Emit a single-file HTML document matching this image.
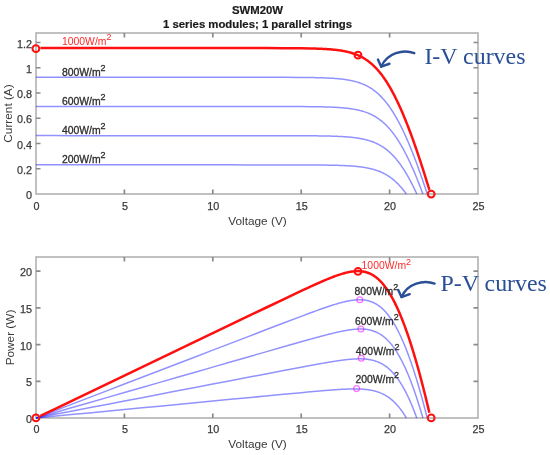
<!DOCTYPE html>
<html><head><meta charset="utf-8"><title>SWM20W I-V and P-V curves</title>
<style>html,body{margin:0;padding:0;background:#fff;overflow:hidden}svg{display:block}</style>
</head><body>
<svg width="550" height="455" viewBox="0 0 550 455"><rect width="550" height="455" fill="#fff"/><g font-family="'Liberation Sans', Arial, Helvetica, sans-serif" font-size="11.35" font-weight="bold" fill="#1a1a1a" stroke="#1a1a1a" stroke-width="0.2" text-anchor="middle"><text x="257.5" y="14.3">SWM20W</text><text x="257.5" y="28.2">1 series modules; 1 parallel strings</text></g><rect x="36.0" y="33.0" width="442.0" height="161.0" fill="none" stroke="#adadad" stroke-width="1.5"/><path d="M124.40,194.0V189.5M124.40,33.0V37.5M212.80,194.0V189.5M212.80,33.0V37.5M301.20,194.0V189.5M301.20,33.0V37.5M389.60,194.0V189.5M389.60,33.0V37.5M36.0,168.75H40.5M478.0,168.75H473.5M36.0,143.50H40.5M478.0,143.50H473.5M36.0,118.25H40.5M478.0,118.25H473.5M36.0,93.00H40.5M478.0,93.00H473.5M36.0,67.75H40.5M478.0,67.75H473.5M36.0,42.50H40.5M478.0,42.50H473.5" stroke="#8a8a8a" stroke-width="1.7" fill="none"/><g font-family="'Liberation Sans', Arial, Helvetica, sans-serif" font-size="10.8" fill="#3a3a3a" stroke="#3a3a3a" stroke-width="0.25"><text x="36.50" y="209.50" text-anchor="middle">0</text><text x="124.90" y="209.50" text-anchor="middle">5</text><text x="213.30" y="209.50" text-anchor="middle">10</text><text x="301.70" y="209.50" text-anchor="middle">15</text><text x="390.10" y="209.50" text-anchor="middle">20</text><text x="478.50" y="209.50" text-anchor="middle">25</text><text x="32.00" y="199.00" text-anchor="end">0</text><text x="32.00" y="173.75" text-anchor="end">0.2</text><text x="32.00" y="148.50" text-anchor="end">0.4</text><text x="32.00" y="123.25" text-anchor="end">0.6</text><text x="32.00" y="98.00" text-anchor="end">0.8</text><text x="32.00" y="72.75" text-anchor="end">1</text><text x="32.00" y="47.50" text-anchor="end">1.2</text></g><text transform="translate(11.9,113.5) rotate(-90)" font-family="'Liberation Sans', Arial, Helvetica, sans-serif" font-size="11.8" fill="#3a3a3a" text-anchor="middle">Current (A)</text><text x="257.5" y="224.50" font-family="'Liberation Sans', Arial, Helvetica, sans-serif" font-size="11.8" fill="#3a3a3a" text-anchor="middle">Voltage (V)</text><rect x="36.0" y="257.0" width="442.0" height="161.0" fill="none" stroke="#adadad" stroke-width="1.5"/><path d="M124.40,418.0V413.5M124.40,257.0V261.5M212.80,418.0V413.5M212.80,257.0V261.5M301.20,418.0V413.5M301.20,257.0V261.5M389.60,418.0V413.5M389.60,257.0V261.5M36.0,381.30H40.5M478.0,381.30H473.5M36.0,344.60H40.5M478.0,344.60H473.5M36.0,307.90H40.5M478.0,307.90H473.5M36.0,271.20H40.5M478.0,271.20H473.5" stroke="#8a8a8a" stroke-width="1.7" fill="none"/><g font-family="'Liberation Sans', Arial, Helvetica, sans-serif" font-size="10.8" fill="#3a3a3a" stroke="#3a3a3a" stroke-width="0.25"><text x="36.50" y="432.80" text-anchor="middle">0</text><text x="124.90" y="432.80" text-anchor="middle">5</text><text x="213.30" y="432.80" text-anchor="middle">10</text><text x="301.70" y="432.80" text-anchor="middle">15</text><text x="390.10" y="432.80" text-anchor="middle">20</text><text x="478.50" y="432.80" text-anchor="middle">25</text><text x="32.00" y="423.00" text-anchor="end">0</text><text x="32.00" y="386.30" text-anchor="end">5</text><text x="32.00" y="349.60" text-anchor="end">10</text><text x="32.00" y="312.90" text-anchor="end">15</text><text x="32.00" y="276.20" text-anchor="end">20</text></g><text transform="translate(13.6,337.5) rotate(-90)" font-family="'Liberation Sans', Arial, Helvetica, sans-serif" font-size="11.8" fill="#3a3a3a" text-anchor="middle">Power (W)</text><text x="257.5" y="447.80" font-family="'Liberation Sans', Arial, Helvetica, sans-serif" font-size="11.8" fill="#3a3a3a" text-anchor="middle">Voltage (V)</text><g fill="none" stroke="#0000ff" stroke-opacity="0.43" stroke-width="1.5" stroke-linejoin="round"><path d="M36.00,164.81 53.68,164.81 71.36,164.82 89.04,164.82 106.72,164.83 124.40,164.83 142.08,164.84 159.76,164.85 177.44,164.85 195.12,164.86 212.80,164.86 230.48,164.87 248.16,164.88 265.84,164.88 283.52,164.90 301.20,164.93 310.04,164.96 310.65,164.97 311.25,164.97 311.86,164.97 312.46,164.98 313.07,164.98 313.67,164.98 314.28,164.99 314.88,164.99 315.49,165.00 316.10,165.00 316.70,165.01 317.31,165.01 317.91,165.01 318.52,165.02 319.12,165.03 319.73,165.03 320.33,165.04 320.94,165.04 321.55,165.05 322.15,165.05 322.76,165.06 323.36,165.07 323.97,165.08 324.57,165.08 325.18,165.09 325.78,165.10 326.39,165.11 327.00,165.12 327.60,165.13 328.21,165.13 328.81,165.14 329.42,165.15 330.02,165.17 330.63,165.18 331.23,165.19 331.84,165.20 332.45,165.21 333.05,165.23 333.66,165.24 334.26,165.25 334.87,165.27 335.47,165.28 336.08,165.30 336.69,165.31 337.29,165.33 337.90,165.35 338.50,165.37 339.11,165.39 339.71,165.41 340.32,165.43 340.92,165.45 341.53,165.47 342.14,165.50 342.74,165.52 343.35,165.55 343.95,165.57 344.56,165.60 345.16,165.63 345.77,165.66 346.37,165.69 346.98,165.72 347.59,165.75 348.19,165.79 348.80,165.82 349.40,165.86 350.01,165.90 350.61,165.94 351.22,165.98 351.82,166.03 352.43,166.07 353.04,166.12 353.64,166.17 354.25,166.22 354.85,166.27 355.46,166.33 356.06,166.38 356.67,166.44 357.27,166.51 357.88,166.57 358.49,166.64 359.09,166.71 359.70,166.78 360.30,166.85 360.91,166.93 361.51,167.01 362.12,167.10 362.72,167.18 363.33,167.28 363.94,167.37 364.54,167.47 365.15,167.57 365.75,167.68 366.36,167.78 366.96,167.90 367.57,168.02 368.17,168.14 368.78,168.27 369.39,168.40 369.99,168.53 370.60,168.68 371.20,168.82 371.81,168.98 372.41,169.14 373.02,169.30 373.62,169.47 374.23,169.65 374.84,169.83 375.44,170.02 376.05,170.21 376.65,170.42 377.26,170.63 377.86,170.85 378.47,171.07 379.08,171.31 379.68,171.55 380.29,171.80 380.89,172.06 381.50,172.32 382.10,172.60 382.71,172.89 383.31,173.18 383.92,173.49 384.53,173.80 385.13,174.13 385.74,174.46 386.34,174.81 386.95,175.17 387.55,175.54 388.16,175.92 388.76,176.31 389.37,176.72 389.98,177.14 390.58,177.57 391.19,178.01 391.79,178.47 392.40,178.94 393.00,179.42 393.61,179.92 394.21,180.43 394.82,180.96 395.43,181.50 396.03,182.06 396.64,182.63 397.24,183.22 397.85,183.82 398.45,184.44 399.06,185.07 399.66,185.72 400.27,186.39 400.88,187.07 401.48,187.78 402.09,188.49 402.69,189.23 403.30,189.98 403.90,190.75 404.51,191.53 405.11,192.34 405.72,193.16 406.33,194.00"/><path d="M36.00,418.00 53.68,416.30 71.36,414.61 89.04,412.91 106.72,411.22 124.40,409.52 142.08,407.83 159.76,406.14 177.44,404.44 195.12,402.75 212.80,401.06 230.48,399.37 248.16,397.68 265.84,395.99 283.52,394.31 301.20,392.65 310.04,391.83 310.65,391.78 311.25,391.72 311.86,391.67 312.46,391.61 313.07,391.56 313.67,391.51 314.28,391.45 314.88,391.40 315.49,391.34 316.10,391.29 316.70,391.24 317.31,391.18 317.91,391.13 318.52,391.08 319.12,391.02 319.73,390.97 320.33,390.92 320.94,390.87 321.55,390.82 322.15,390.76 322.76,390.71 323.36,390.66 323.97,390.61 324.57,390.56 325.18,390.51 325.78,390.46 326.39,390.41 327.00,390.36 327.60,390.31 328.21,390.26 328.81,390.22 329.42,390.17 330.02,390.12 330.63,390.07 331.23,390.03 331.84,389.98 332.45,389.94 333.05,389.89 333.66,389.85 334.26,389.80 334.87,389.76 335.47,389.72 336.08,389.68 336.69,389.64 337.29,389.60 337.90,389.56 338.50,389.52 339.11,389.48 339.71,389.44 340.32,389.41 340.92,389.37 341.53,389.34 342.14,389.30 342.74,389.27 343.35,389.24 343.95,389.21 344.56,389.18 345.16,389.15 345.77,389.13 346.37,389.10 346.98,389.08 347.59,389.06 348.19,389.04 348.80,389.02 349.40,389.00 350.01,388.98 350.61,388.97 351.22,388.96 351.82,388.95 352.43,388.94 353.04,388.93 353.64,388.93 354.25,388.93 354.85,388.93 355.46,388.93 356.06,388.93 356.67,388.94 357.27,388.95 357.88,388.97 358.49,388.98 359.09,389.00 359.70,389.02 360.30,389.05 360.91,389.08 361.51,389.11 362.12,389.15 362.72,389.19 363.33,389.23 363.94,389.28 364.54,389.34 365.15,389.39 365.75,389.45 366.36,389.52 366.96,389.59 367.57,389.67 368.17,389.75 368.78,389.84 369.39,389.93 369.99,390.03 370.60,390.14 371.20,390.25 371.81,390.37 372.41,390.49 373.02,390.63 373.62,390.77 374.23,390.91 374.84,391.07 375.44,391.23 376.05,391.40 376.65,391.58 377.26,391.77 377.86,391.97 378.47,392.18 379.08,392.40 379.68,392.62 380.29,392.86 380.89,393.11 381.50,393.37 382.10,393.64 382.71,393.93 383.31,394.22 383.92,394.53 384.53,394.85 385.13,395.19 385.74,395.53 386.34,395.89 386.95,396.27 387.55,396.66 388.16,397.06 388.76,397.48 389.37,397.92 389.98,398.37 390.58,398.84 391.19,399.33 391.79,399.83 392.40,400.35 393.00,400.89 393.61,401.45 394.21,402.02 394.82,402.62 395.43,403.23 396.03,403.86 396.64,404.52 397.24,405.19 397.85,405.89 398.45,406.60 399.06,407.34 399.66,408.10 400.27,408.89 400.88,409.69 401.48,410.52 402.09,411.37 402.69,412.24 403.30,413.14 403.90,414.07 404.51,415.01 405.11,415.98 405.72,416.98 406.33,418.00"/><path d="M36.00,135.61 53.68,135.62 71.36,135.63 89.04,135.63 106.72,135.64 124.40,135.64 142.08,135.65 159.76,135.65 177.44,135.66 195.12,135.66 212.80,135.67 230.48,135.68 248.16,135.68 265.84,135.69 283.52,135.71 301.20,135.75 310.04,135.80 310.71,135.81 311.38,135.81 312.05,135.82 312.73,135.82 313.40,135.83 314.07,135.84 314.74,135.84 315.41,135.85 316.08,135.86 316.75,135.86 317.42,135.87 318.10,135.88 318.77,135.89 319.44,135.90 320.11,135.90 320.78,135.91 321.45,135.92 322.12,135.93 322.80,135.94 323.47,135.96 324.14,135.97 324.81,135.98 325.48,135.99 326.15,136.01 326.82,136.02 327.50,136.03 328.17,136.05 328.84,136.07 329.51,136.08 330.18,136.10 330.85,136.12 331.52,136.14 332.19,136.16 332.87,136.18 333.54,136.20 334.21,136.22 334.88,136.24 335.55,136.27 336.22,136.29 336.89,136.32 337.57,136.35 338.24,136.38 338.91,136.41 339.58,136.44 340.25,136.47 340.92,136.51 341.59,136.54 342.27,136.58 342.94,136.62 343.61,136.66 344.28,136.70 344.95,136.75 345.62,136.80 346.29,136.85 346.96,136.90 347.64,136.95 348.31,137.01 348.98,137.06 349.65,137.12 350.32,137.19 350.99,137.25 351.66,137.32 352.34,137.39 353.01,137.47 353.68,137.55 354.35,137.63 355.02,137.72 355.69,137.81 356.36,137.90 357.04,137.99 357.71,138.10 358.38,138.20 359.05,138.31 359.72,138.43 360.39,138.55 361.06,138.67 361.73,138.80 362.41,138.93 363.08,139.08 363.75,139.22 364.42,139.38 365.09,139.53 365.76,139.70 366.43,139.87 367.11,140.05 367.78,140.24 368.45,140.43 369.12,140.64 369.79,140.85 370.46,141.07 371.13,141.29 371.81,141.53 372.48,141.78 373.15,142.03 373.82,142.30 374.49,142.57 375.16,142.86 375.83,143.15 376.50,143.46 377.18,143.78 377.85,144.11 378.52,144.46 379.19,144.81 379.86,145.18 380.53,145.57 381.20,145.96 381.88,146.37 382.55,146.80 383.22,147.24 383.89,147.69 384.56,148.16 385.23,148.65 385.90,149.15 386.57,149.67 387.25,150.20 387.92,150.75 388.59,151.32 389.26,151.91 389.93,152.52 390.60,153.14 391.27,153.78 391.95,154.45 392.62,155.13 393.29,155.83 393.96,156.55 394.63,157.29 395.30,158.05 395.97,158.83 396.65,159.64 397.32,160.46 397.99,161.31 398.66,162.17 399.33,163.06 400.00,163.97 400.67,164.90 401.34,165.86 402.02,166.84 402.69,167.83 403.36,168.86 404.03,169.90 404.70,170.97 405.37,172.05 406.04,173.17 406.72,174.30 407.39,175.46 408.06,176.64 408.73,177.84 409.40,179.06 410.07,180.31 410.74,181.58 411.42,182.87 412.09,184.19 412.76,185.52 413.43,186.88 414.10,188.26 414.77,189.66 415.44,191.09 416.11,192.53 416.79,194.00"/><path d="M36.00,418.00 53.68,414.61 71.36,411.21 89.04,407.82 106.72,404.43 124.40,401.04 142.08,397.64 159.76,394.25 177.44,390.86 195.12,387.48 212.80,384.09 230.48,380.70 248.16,377.31 265.84,373.93 283.52,370.56 301.20,367.21 310.04,365.56 310.71,365.43 311.38,365.31 312.05,365.18 312.73,365.06 313.40,364.94 314.07,364.82 314.74,364.69 315.41,364.57 316.08,364.45 316.75,364.33 317.42,364.21 318.10,364.08 318.77,363.96 319.44,363.84 320.11,363.72 320.78,363.60 321.45,363.49 322.12,363.37 322.80,363.25 323.47,363.13 324.14,363.01 324.81,362.90 325.48,362.78 326.15,362.67 326.82,362.55 327.50,362.44 328.17,362.32 328.84,362.21 329.51,362.10 330.18,361.99 330.85,361.88 331.52,361.77 332.19,361.66 332.87,361.55 333.54,361.44 334.21,361.34 334.88,361.23 335.55,361.13 336.22,361.03 336.89,360.93 337.57,360.83 338.24,360.73 338.91,360.63 339.58,360.54 340.25,360.44 340.92,360.35 341.59,360.26 342.27,360.17 342.94,360.09 343.61,360.00 344.28,359.92 344.95,359.84 345.62,359.76 346.29,359.68 346.96,359.61 347.64,359.54 348.31,359.47 348.98,359.40 349.65,359.34 350.32,359.28 350.99,359.22 351.66,359.17 352.34,359.12 353.01,359.07 353.68,359.03 354.35,358.99 355.02,358.95 355.69,358.92 356.36,358.90 357.04,358.88 357.71,358.86 358.38,358.85 359.05,358.84 359.72,358.84 360.39,358.85 361.06,358.86 361.73,358.87 362.41,358.90 363.08,358.93 363.75,358.96 364.42,359.01 365.09,359.06 365.76,359.12 366.43,359.19 367.11,359.26 367.78,359.35 368.45,359.44 369.12,359.54 369.79,359.66 370.46,359.78 371.13,359.91 371.81,360.06 372.48,360.22 373.15,360.38 373.82,360.56 374.49,360.76 375.16,360.96 375.83,361.18 376.50,361.41 377.18,361.66 377.85,361.92 378.52,362.20 379.19,362.49 379.86,362.80 380.53,363.13 381.20,363.47 381.88,363.83 382.55,364.21 383.22,364.61 383.89,365.02 384.56,365.46 385.23,365.92 385.90,366.39 386.57,366.89 387.25,367.41 387.92,367.95 388.59,368.52 389.26,369.11 389.93,369.72 390.60,370.36 391.27,371.02 391.95,371.70 392.62,372.41 393.29,373.15 393.96,373.92 394.63,374.71 395.30,375.53 395.97,376.37 396.65,377.25 397.32,378.15 397.99,379.08 398.66,380.04 399.33,381.04 400.00,382.06 400.67,383.11 401.34,384.19 402.02,385.30 402.69,386.45 403.36,387.62 404.03,388.83 404.70,390.07 405.37,391.34 406.04,392.65 406.72,393.98 407.39,395.35 408.06,396.76 408.73,398.19 409.40,399.66 410.07,401.16 410.74,402.69 411.42,404.26 412.09,405.86 412.76,407.50 413.43,409.16 414.10,410.86 414.77,412.60 415.44,414.37 416.11,416.17 416.79,418.00"/><path d="M36.00,106.42 53.68,106.43 71.36,106.43 89.04,106.44 106.72,106.44 124.40,106.45 142.08,106.45 159.76,106.46 177.44,106.47 195.12,106.47 212.80,106.48 230.48,106.48 248.16,106.49 265.84,106.50 283.52,106.52 301.20,106.59 310.04,106.66 310.75,106.67 311.46,106.67 312.17,106.68 312.88,106.69 313.59,106.70 314.30,106.71 315.01,106.72 315.72,106.73 316.43,106.74 317.14,106.75 317.85,106.76 318.56,106.78 319.27,106.79 319.98,106.80 320.69,106.82 321.40,106.83 322.11,106.85 322.82,106.86 323.53,106.88 324.24,106.90 324.95,106.92 325.66,106.94 326.37,106.96 327.08,106.98 327.78,107.00 328.49,107.03 329.20,107.05 329.91,107.08 330.62,107.10 331.33,107.13 332.04,107.16 332.75,107.19 333.46,107.23 334.17,107.26 334.88,107.30 335.59,107.33 336.30,107.37 337.01,107.41 337.72,107.46 338.43,107.50 339.14,107.55 339.85,107.60 340.56,107.65 341.27,107.70 341.98,107.76 342.69,107.82 343.40,107.88 344.11,107.95 344.82,108.01 345.53,108.09 346.24,108.16 346.95,108.24 347.66,108.32 348.37,108.40 349.08,108.49 349.79,108.59 350.50,108.68 351.21,108.78 351.92,108.89 352.63,109.00 353.34,109.12 354.05,109.24 354.76,109.37 355.47,109.50 356.18,109.64 356.89,109.78 357.60,109.93 358.31,110.09 359.02,110.26 359.73,110.43 360.44,110.61 361.15,110.79 361.86,110.99 362.56,111.19 363.27,111.40 363.98,111.62 364.69,111.86 365.40,112.10 366.11,112.35 366.82,112.61 367.53,112.88 368.24,113.16 368.95,113.45 369.66,113.76 370.37,114.08 371.08,114.41 371.79,114.75 372.50,115.11 373.21,115.48 373.92,115.87 374.63,116.27 375.34,116.68 376.05,117.12 376.76,117.56 377.47,118.03 378.18,118.51 378.89,119.00 379.60,119.52 380.31,120.05 381.02,120.60 381.73,121.18 382.44,121.77 383.15,122.37 383.86,123.00 384.57,123.65 385.28,124.33 385.99,125.02 386.70,125.73 387.41,126.47 388.12,127.23 388.83,128.01 389.54,128.81 390.25,129.63 390.96,130.48 391.67,131.36 392.38,132.25 393.09,133.17 393.80,134.12 394.51,135.09 395.22,136.08 395.93,137.10 396.64,138.15 397.35,139.22 398.05,140.31 398.76,141.43 399.47,142.57 400.18,143.74 400.89,144.94 401.60,146.16 402.31,147.40 403.02,148.67 403.73,149.97 404.44,151.29 405.15,152.64 405.86,154.01 406.57,155.40 407.28,156.82 407.99,158.27 408.70,159.74 409.41,161.23 410.12,162.75 410.83,164.30 411.54,165.86 412.25,167.45 412.96,169.07 413.67,170.70 414.38,172.36 415.09,174.05 415.80,175.75 416.51,177.48 417.22,179.23 417.93,181.00 418.64,182.80 419.35,184.61 420.06,186.45 420.77,188.31 421.48,190.18 422.19,192.08 422.90,194.00"/><path d="M36.00,418.00 53.68,412.91 71.36,407.82 89.04,402.73 106.72,397.64 124.40,392.55 142.08,387.46 159.76,382.37 177.44,377.29 195.12,372.20 212.80,367.12 230.48,362.03 248.16,356.95 265.84,351.87 283.52,346.80 301.20,341.77 310.04,339.29 310.75,339.10 311.46,338.90 312.17,338.70 312.88,338.51 313.59,338.31 314.30,338.12 315.01,337.92 315.72,337.73 316.43,337.53 317.14,337.34 317.85,337.15 318.56,336.95 319.27,336.76 319.98,336.57 320.69,336.38 321.40,336.19 322.11,336.00 322.82,335.82 323.53,335.63 324.24,335.44 324.95,335.26 325.66,335.07 326.37,334.89 327.08,334.71 327.78,334.53 328.49,334.34 329.20,334.17 329.91,333.99 330.62,333.81 331.33,333.64 332.04,333.46 332.75,333.29 333.46,333.12 334.17,332.95 334.88,332.78 335.59,332.62 336.30,332.45 337.01,332.29 337.72,332.13 338.43,331.98 339.14,331.82 339.85,331.67 340.56,331.52 341.27,331.37 341.98,331.23 342.69,331.09 343.40,330.95 344.11,330.81 344.82,330.68 345.53,330.55 346.24,330.43 346.95,330.31 347.66,330.19 348.37,330.08 349.08,329.97 349.79,329.86 350.50,329.77 351.21,329.67 351.92,329.58 352.63,329.50 353.34,329.42 354.05,329.35 354.76,329.29 355.47,329.23 356.18,329.18 356.89,329.13 357.60,329.10 358.31,329.07 359.02,329.05 359.73,329.03 360.44,329.03 361.15,329.03 361.86,329.05 362.56,329.07 363.27,329.11 363.98,329.16 364.69,329.21 365.40,329.28 366.11,329.36 366.82,329.45 367.53,329.56 368.24,329.68 368.95,329.81 369.66,329.96 370.37,330.12 371.08,330.30 371.79,330.50 372.50,330.71 373.21,330.93 373.92,331.18 374.63,331.44 375.34,331.72 376.05,332.03 376.76,332.35 377.47,332.69 378.18,333.05 378.89,333.44 379.60,333.85 380.31,334.28 381.02,334.73 381.73,335.21 382.44,335.71 383.15,336.24 383.86,336.79 384.57,337.37 385.28,337.97 385.99,338.61 386.70,339.27 387.41,339.96 388.12,340.68 388.83,341.43 389.54,342.21 390.25,343.02 390.96,343.86 391.67,344.73 392.38,345.64 393.09,346.58 393.80,347.55 394.51,348.55 395.22,349.59 395.93,350.66 396.64,351.76 397.35,352.90 398.05,354.08 398.76,355.29 399.47,356.53 400.18,357.81 400.89,359.13 401.60,360.48 402.31,361.87 403.02,363.29 403.73,364.76 404.44,366.25 405.15,367.79 405.86,369.36 406.57,370.97 407.28,372.61 407.99,374.29 408.70,376.01 409.41,377.77 410.12,379.56 410.83,381.39 411.54,383.25 412.25,385.15 412.96,387.09 413.67,389.07 414.38,391.08 415.09,393.13 415.80,395.21 416.51,397.33 417.22,399.49 417.93,401.68 418.64,403.90 419.35,406.17 420.06,408.46 420.77,410.80 421.48,413.16 422.19,415.56 422.90,418.00"/><path d="M36.00,77.23 53.68,77.23 71.36,77.24 89.04,77.24 106.72,77.25 124.40,77.26 142.08,77.26 159.76,77.27 177.44,77.27 195.12,77.28 212.80,77.28 230.48,77.29 248.16,77.30 265.84,77.31 283.52,77.34 301.20,77.43 310.04,77.53 310.78,77.55 311.51,77.56 312.25,77.57 312.99,77.58 313.73,77.60 314.46,77.61 315.20,77.63 315.94,77.64 316.67,77.66 317.41,77.68 318.15,77.69 318.88,77.71 319.62,77.73 320.36,77.75 321.10,77.78 321.83,77.80 322.57,77.82 323.31,77.85 324.04,77.88 324.78,77.90 325.52,77.93 326.26,77.96 326.99,78.00 327.73,78.03 328.47,78.07 329.20,78.10 329.94,78.14 330.68,78.18 331.41,78.23 332.15,78.27 332.89,78.32 333.63,78.37 334.36,78.42 335.10,78.47 335.84,78.53 336.57,78.59 337.31,78.65 338.05,78.72 338.79,78.79 339.52,78.86 340.26,78.94 341.00,79.02 341.73,79.10 342.47,79.19 343.21,79.28 343.94,79.37 344.68,79.48 345.42,79.58 346.16,79.69 346.89,79.81 347.63,79.93 348.37,80.05 349.10,80.18 349.84,80.32 350.58,80.47 351.32,80.62 352.05,80.78 352.79,80.94 353.53,81.12 354.26,81.30 355.00,81.49 355.74,81.68 356.47,81.89 357.21,82.11 357.95,82.33 358.69,82.57 359.42,82.81 360.16,83.07 360.90,83.34 361.63,83.61 362.37,83.91 363.11,84.21 363.85,84.52 364.58,84.85 365.32,85.20 366.06,85.55 366.79,85.92 367.53,86.31 368.27,86.71 369.00,87.13 369.74,87.56 370.48,88.01 371.22,88.48 371.95,88.97 372.69,89.47 373.43,90.00 374.16,90.54 374.90,91.10 375.64,91.68 376.38,92.28 377.11,92.91 377.85,93.55 378.59,94.22 379.32,94.91 380.06,95.62 380.80,96.36 381.53,97.11 382.27,97.90 383.01,98.70 383.75,99.53 384.48,100.39 385.22,101.27 385.96,102.18 386.69,103.11 387.43,104.07 388.17,105.05 388.91,106.06 389.64,107.10 390.38,108.17 391.12,109.26 391.85,110.37 392.59,111.52 393.33,112.69 394.06,113.89 394.80,115.12 395.54,116.37 396.28,117.65 397.01,118.96 397.75,120.30 398.49,121.66 399.22,123.05 399.96,124.47 400.70,125.91 401.44,127.38 402.17,128.88 402.91,130.40 403.65,131.95 404.38,133.53 405.12,135.13 405.86,136.76 406.59,138.41 407.33,140.09 408.07,141.79 408.81,143.52 409.54,145.27 410.28,147.05 411.02,148.85 411.75,150.68 412.49,152.53 413.23,154.40 413.97,156.29 414.70,158.21 415.44,160.15 416.18,162.11 416.91,164.10 417.65,166.10 418.39,168.13 419.12,170.18 419.86,172.24 420.60,174.33 421.34,176.44 422.07,178.57 422.81,180.72 423.55,182.89 424.28,185.07 425.02,187.28 425.76,189.50 426.50,191.74 427.23,194.00"/><path d="M36.00,418.00 53.68,411.21 71.36,404.42 89.04,397.64 106.72,390.85 124.40,384.06 142.08,377.28 159.76,370.49 177.44,363.71 195.12,356.93 212.80,350.14 230.48,343.36 248.16,336.58 265.84,329.81 283.52,323.05 301.20,316.35 310.04,313.05 310.78,312.78 311.51,312.50 312.25,312.23 312.99,311.96 313.73,311.69 314.46,311.42 315.20,311.16 315.94,310.89 316.67,310.62 317.41,310.36 318.15,310.09 318.88,309.83 319.62,309.56 320.36,309.30 321.10,309.04 321.83,308.78 322.57,308.52 323.31,308.26 324.04,308.01 324.78,307.75 325.52,307.50 326.26,307.25 326.99,307.00 327.73,306.75 328.47,306.50 329.20,306.26 329.94,306.01 330.68,305.77 331.41,305.53 332.15,305.30 332.89,305.06 333.63,304.83 334.36,304.60 335.10,304.37 335.84,304.15 336.57,303.93 337.31,303.71 338.05,303.50 338.79,303.29 339.52,303.08 340.26,302.88 341.00,302.68 341.73,302.48 342.47,302.29 343.21,302.11 343.94,301.93 344.68,301.75 345.42,301.58 346.16,301.41 346.89,301.25 347.63,301.10 348.37,300.95 349.10,300.81 349.84,300.68 350.58,300.56 351.32,300.44 352.05,300.33 352.79,300.23 353.53,300.13 354.26,300.05 355.00,299.97 355.74,299.91 356.47,299.85 357.21,299.81 357.95,299.78 358.69,299.76 359.42,299.75 360.16,299.75 360.90,299.77 361.63,299.80 362.37,299.84 363.11,299.90 363.85,299.98 364.58,300.07 365.32,300.17 366.06,300.30 366.79,300.44 367.53,300.60 368.27,300.77 369.00,300.97 369.74,301.19 370.48,301.43 371.22,301.69 371.95,301.97 372.69,302.27 373.43,302.60 374.16,302.95 374.90,303.32 375.64,303.72 376.38,304.15 377.11,304.60 377.85,305.08 378.59,305.59 379.32,306.13 380.06,306.69 380.80,307.29 381.53,307.91 382.27,308.57 383.01,309.26 383.75,309.98 384.48,310.73 385.22,311.51 385.96,312.33 386.69,313.19 387.43,314.07 388.17,314.99 388.91,315.95 389.64,316.94 390.38,317.97 391.12,319.04 391.85,320.14 392.59,321.28 393.33,322.46 394.06,323.67 394.80,324.93 395.54,326.22 396.28,327.55 397.01,328.92 397.75,330.32 398.49,331.77 399.22,333.25 399.96,334.78 400.70,336.34 401.44,337.94 402.17,339.58 402.91,341.26 403.65,342.98 404.38,344.74 405.12,346.54 405.86,348.38 406.59,350.25 407.33,352.17 408.07,354.12 408.81,356.11 409.54,358.15 410.28,360.21 411.02,362.32 411.75,364.47 412.49,366.65 413.23,368.87 413.97,371.13 414.70,373.43 415.44,375.76 416.18,378.13 416.91,380.54 417.65,382.99 418.39,385.47 419.12,387.99 419.86,390.54 420.60,393.13 421.34,395.75 422.07,398.41 422.81,401.11 423.55,403.84 424.28,406.60 425.02,409.40 425.76,412.23 426.50,415.10 427.23,418.00"/></g><g fill="none" stroke="#ff1010" stroke-width="2.5" stroke-linejoin="round"><path d="M40.42,48.04 53.68,48.04 71.36,48.05 89.04,48.05 106.72,48.06 124.40,48.06 142.08,48.07 159.76,48.07 177.44,48.08 195.12,48.09 212.80,48.09 230.48,48.10 248.16,48.11 265.84,48.12 283.52,48.17 301.20,48.30 310.04,48.44 310.80,48.46 311.56,48.48 312.31,48.50 313.07,48.52 313.83,48.54 314.59,48.56 315.35,48.58 316.11,48.60 316.86,48.63 317.62,48.66 318.38,48.68 319.14,48.71 319.90,48.74 320.65,48.77 321.41,48.81 322.17,48.84 322.93,48.88 323.69,48.92 324.45,48.96 325.20,49.00 325.96,49.05 326.72,49.09 327.48,49.14 328.24,49.20 328.99,49.25 329.75,49.31 330.51,49.37 331.27,49.43 332.03,49.50 332.79,49.57 333.54,49.64 334.30,49.72 335.06,49.80 335.82,49.88 336.58,49.97 337.34,50.07 338.09,50.16 338.85,50.27 339.61,50.37 340.37,50.49 341.13,50.60 341.88,50.73 342.64,50.86 343.40,50.99 344.16,51.14 344.92,51.29 345.68,51.44 346.43,51.61 347.19,51.78 347.95,51.96 348.71,52.14 349.47,52.34 350.22,52.55 350.98,52.76 351.74,52.99 352.50,53.22 353.26,53.47 354.02,53.73 354.77,53.99 355.53,54.27 356.29,54.57 357.05,54.87 357.81,55.19 358.56,55.53 359.32,55.87 360.08,56.23 360.84,56.61 361.60,57.00 362.36,57.41 363.11,57.84 363.87,58.28 364.63,58.74 365.39,59.22 366.15,59.72 366.90,60.23 367.66,60.77 368.42,61.33 369.18,61.91 369.94,62.50 370.70,63.13 371.45,63.77 372.21,64.43 372.97,65.12 373.73,65.84 374.49,66.57 375.24,67.33 376.00,68.12 376.76,68.93 377.52,69.77 378.28,70.63 379.04,71.52 379.79,72.44 380.55,73.38 381.31,74.35 382.07,75.35 382.83,76.38 383.59,77.43 384.34,78.52 385.10,79.63 385.86,80.77 386.62,81.93 387.38,83.13 388.13,84.36 388.89,85.61 389.65,86.89 390.41,88.20 391.17,89.55 391.93,90.92 392.68,92.31 393.44,93.74 394.20,95.20 394.96,96.68 395.72,98.19 396.47,99.73 397.23,101.30 397.99,102.90 398.75,104.52 399.51,106.17 400.27,107.85 401.02,109.56 401.78,111.29 402.54,113.05 403.30,114.83 404.06,116.65 404.81,118.48 405.57,120.34 406.33,122.23 407.09,124.14 407.85,126.08 408.61,128.04 409.36,130.02 410.12,132.03 410.88,134.06 411.64,136.12 412.40,138.19 413.15,140.29 413.91,142.41 414.67,144.56 415.43,146.72 416.19,148.91 416.95,151.11 417.70,153.34 418.46,155.58 419.22,157.85 419.98,160.13 420.74,162.44 421.49,164.76 422.25,167.10 423.01,169.46 423.77,171.84 424.53,174.24 425.29,176.65 426.04,179.08 426.80,181.52 427.56,183.99 428.32,186.47 429.08,188.96 429.36,189.88"/><path d="M40.42,415.88 53.68,409.51 71.36,401.03 89.04,392.54 106.72,384.06 124.40,375.58 142.08,367.09 159.76,358.61 177.44,350.13 195.12,341.65 212.80,333.17 230.48,324.69 248.16,316.22 265.84,307.75 283.52,299.30 301.20,290.94 310.04,286.83 310.80,286.48 311.56,286.14 312.31,285.79 313.07,285.45 313.83,285.10 314.59,284.76 315.35,284.42 316.11,284.08 316.86,283.74 317.62,283.40 318.38,283.06 319.14,282.73 319.90,282.39 320.65,282.06 321.41,281.73 322.17,281.40 322.93,281.07 323.69,280.75 324.45,280.43 325.20,280.11 325.96,279.79 326.72,279.47 327.48,279.16 328.24,278.85 328.99,278.54 329.75,278.23 330.51,277.93 331.27,277.63 332.03,277.33 332.79,277.04 333.54,276.75 334.30,276.47 335.06,276.19 335.82,275.91 336.58,275.64 337.34,275.37 338.09,275.11 338.85,274.86 339.61,274.60 340.37,274.36 341.13,274.12 341.88,273.89 342.64,273.66 343.40,273.44 344.16,273.23 344.92,273.02 345.68,272.83 346.43,272.64 347.19,272.46 347.95,272.29 348.71,272.13 349.47,271.98 350.22,271.84 350.98,271.71 351.74,271.59 352.50,271.48 353.26,271.39 354.02,271.31 354.77,271.24 355.53,271.18 356.29,271.14 357.05,271.12 357.81,271.11 358.56,271.12 359.32,271.14 360.08,271.18 360.84,271.24 361.60,271.32 362.36,271.42 363.11,271.53 363.87,271.67 364.63,271.83 365.39,272.01 366.15,272.22 366.90,272.44 367.66,272.70 368.42,272.97 369.18,273.27 369.94,273.60 370.70,273.96 371.45,274.34 372.21,274.75 372.97,275.19 373.73,275.66 374.49,276.16 375.24,276.70 376.00,277.26 376.76,277.86 377.52,278.48 378.28,279.15 379.04,279.84 379.79,280.57 380.55,281.34 381.31,282.14 382.07,282.98 382.83,283.85 383.59,284.76 384.34,285.71 385.10,286.70 385.86,287.73 386.62,288.79 387.38,289.89 388.13,291.04 388.89,292.22 389.65,293.44 390.41,294.70 391.17,296.01 391.93,297.35 392.68,298.73 393.44,300.15 394.20,301.62 394.96,303.12 395.72,304.67 396.47,306.26 397.23,307.89 397.99,309.56 398.75,311.27 399.51,313.02 400.27,314.81 401.02,316.64 401.78,318.51 402.54,320.43 403.30,322.38 404.06,324.38 404.81,326.41 405.57,328.49 406.33,330.60 407.09,332.75 407.85,334.95 408.61,337.18 409.36,339.45 410.12,341.76 410.88,344.11 411.64,346.50 412.40,348.93 413.15,351.39 413.91,353.89 414.67,356.43 415.43,359.01 416.19,361.62 416.95,364.27 417.70,366.96 418.46,369.68 419.22,372.44 419.98,375.24 420.74,378.07 421.49,380.94 422.25,383.84 423.01,386.77 423.77,389.74 424.53,392.75 425.29,395.79 426.04,398.86 426.80,401.97 427.56,405.11 428.32,408.28 429.08,411.49 429.36,412.68"/></g><g fill="none" stroke="#ff1010" stroke-width="2.0"><circle cx="35.90" cy="48.70" r="3.4"/><circle cx="358.00" cy="55.20" r="3.4"/><circle cx="431.20" cy="194.10" r="3.4"/><circle cx="35.90" cy="417.90" r="3.4"/><circle cx="358.00" cy="271.40" r="3.4"/><circle cx="431.20" cy="417.90" r="3.4"/></g><g fill="none" stroke="#ff00ff" stroke-opacity="0.55" stroke-width="1.3"><circle cx="359.8" cy="299.8" r="2.9"/><circle cx="360.9" cy="329.0" r="2.9"/><circle cx="361.2" cy="358.3" r="2.9"/><circle cx="356.6" cy="388.6" r="2.9"/></g><g font-family="'Liberation Sans', Arial, Helvetica, sans-serif" font-size="10.4" fill="#ff2a2a"><text x="62.0" y="45.2">1000W/m<tspan font-size="9" dy="-4.8">2</tspan></text><text x="361.6" y="269.4">1000W/m<tspan font-size="9" dy="-4.8">2</tspan></text></g><g font-family="'Liberation Sans', Arial, Helvetica, sans-serif" font-size="10.4" fill="#2e2e2e" stroke="#2e2e2e" stroke-width="0.3"><text x="61.9" y="75.6">800W/m<tspan font-size="9" dy="-4.8">2</tspan></text><text x="61.9" y="104.7">600W/m<tspan font-size="9" dy="-4.8">2</tspan></text><text x="61.9" y="134.1">400W/m<tspan font-size="9" dy="-4.8">2</tspan></text><text x="61.9" y="163.2">200W/m<tspan font-size="9" dy="-4.8">2</tspan></text><text x="354.6" y="295.2">800W/m<tspan font-size="9" dy="-4.8">2</tspan></text><text x="355.0" y="324.9">600W/m<tspan font-size="9" dy="-4.8">2</tspan></text><text x="355.8" y="354.6">400W/m<tspan font-size="9" dy="-4.8">2</tspan></text><text x="355.4" y="382.9">200W/m<tspan font-size="9" dy="-4.8">2</tspan></text></g><g font-family="'Liberation Serif', 'Times New Roman', serif" font-size="23.9" fill="#2a4f96"><text x="424.4" y="63.8">I-V curves</text><text x="440.5" y="291.2">P-V curves</text></g><g fill="none" stroke="#2a4f96" stroke-width="2.4" stroke-linecap="round" stroke-linejoin="round"><path d="M414.30,53.20 C403.35,49.10 387.20,52.90 381.20,66.70"/><path d="M377.95,59.50 L381.20,66.70 L389.40,63.75"/><path d="M434.60,283.60 C423.65,279.50 407.50,283.30 401.50,297.10"/><path d="M398.25,289.90 L401.50,297.10 L409.70,294.15"/></g></svg>
</body></html>
